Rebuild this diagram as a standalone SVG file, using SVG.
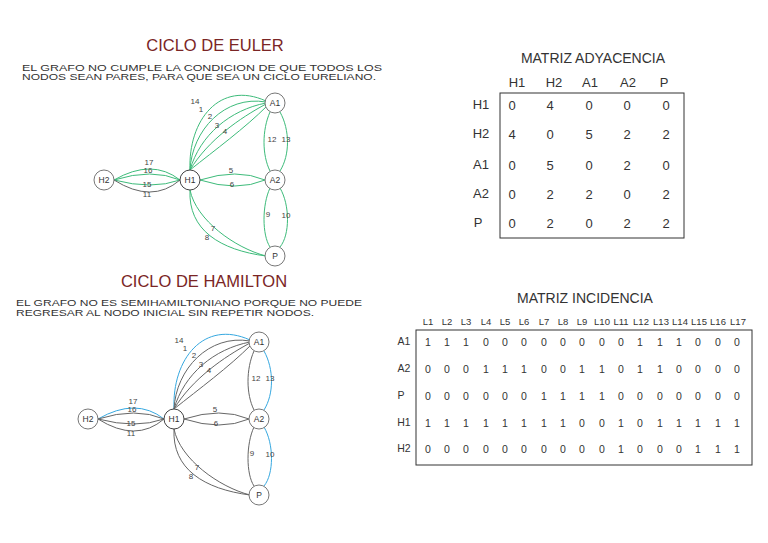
<svg xmlns="http://www.w3.org/2000/svg" width="768" height="543" viewBox="0 0 768 543">
<style>
text{font-family:"Liberation Sans",Arial,sans-serif;fill:#333}
.t{font-size:16.5px;fill:#7a2525;text-anchor:middle}
.s{font-size:9px;fill:#333}
.e{fill:none;stroke-width:1}
.g .e{stroke:#3dbb7a}
.h .e{stroke:#666}
.h .b{stroke:#36a8e0}
.g .k{stroke:#666}
.n circle{fill:#fff;stroke:#777}
.n text{font-size:8.5px;text-anchor:middle}
.l{font-size:8px;fill:#444;text-anchor:middle}
.m{font-size:13px;text-anchor:middle}
.mt{font-size:14px;text-anchor:middle}
.i{font-size:10.5px;text-anchor:middle}
.hd{font-size:9.5px}
.box{fill:none;stroke:#333}
</style>

<text class="t" x="215" y="51">CICLO DE EULER</text>
<text class="s" x="22" y="71" textLength="360" lengthAdjust="spacingAndGlyphs">EL GRAFO NO CUMPLE LA CONDICION DE QUE TODOS LOS</text>
<text class="s" x="22" y="80" textLength="354" lengthAdjust="spacingAndGlyphs">NODOS SEAN PARES, PARA QUE SEA UN CICLO EURELIANO.</text>

<g id="connectors-euler" class="g">
<path class="e" d="M190,170 C188,120 220,80 266,101"/>
<path class="e" d="M190,170 C192,130 225,95 266,102"/>
<path class="e" d="M190,170 C200,135 230,110 266,103"/>
<path class="e" d="M190,170 C208,140 240,118 266,104"/>
<path class="e" d="M190,170 C215,150 245,128 267,106"/>
<path class="e" d="M200,180 Q237,168 265,180"/>
<path class="e" d="M200,180 Q237,192 265,180"/>
<path class="e" d="M190,190 C196,220 235,248 266,256"/>
<path class="e" d="M190,190 C188,230 220,250 266,256"/>
<path class="e" d="M270,188 C262,205 262,235 270,247"/>
<path class="e" d="M280,188 C290,205 290,235 280,247"/>
<path class="e" d="M270,112 C262,130 262,155 270,171"/>
<path class="e" d="M280,112 C290,130 290,155 280,171"/>
<path class="e" d="M114,180 Q152,158 180,180"/>
<path class="e" d="M114,180 Q152,168 180,180"/>
<path class="e" d="M114,180 Q152,190 180,180"/>
<path class="e k" d="M114,180 Q152,204 180,180"/>
<g>
<text class="l" x="195" y="104">14</text><text class="l" x="201" y="112">1</text><text class="l" x="210" y="119">2</text><text class="l" x="217" y="128">3</text><text class="l" x="225" y="134">4</text>
<text class="l" x="272" y="142">12</text><text class="l" x="286" y="142">13</text>
<text class="l" x="231" y="173">5</text><text class="l" x="232" y="187">6</text>
<text class="l" x="268" y="217">9</text><text class="l" x="286" y="218">10</text>
<text class="l" x="213" y="231">7</text><text class="l" x="207" y="240">8</text>
<text class="l" x="149" y="165">17</text><text class="l" x="148" y="173">16</text><text class="l" x="147" y="187">15</text><text class="l" x="147" y="197">11</text>
</g>
</g>
<g id="nodes-euler" class="n">
<g id="e-H2"><circle cx="104" cy="180" r="10"/><text x="104" y="183">H2</text></g>
<g id="e-H1"><circle cx="190" cy="180" r="10" style="stroke:#444"/><text x="190" y="183">H1</text></g>
<g id="e-A1"><circle cx="275" cy="103" r="10"/><text x="275" y="106">A1</text></g>
<g id="e-A2"><circle cx="275" cy="180" r="10"/><text x="275" y="183">A2</text></g>
<g id="e-P"><circle cx="275" cy="256" r="10"/><text x="275" y="259">P</text></g>
</g>

<text class="t" x="204" y="287">CICLO DE HAMILTON</text>
<text class="s" x="16" y="306" textLength="346" lengthAdjust="spacingAndGlyphs">EL GRAFO NO ES SEMIHAMILTONIANO PORQUE NO PUEDE</text>
<text class="s" x="16" y="316" textLength="298" lengthAdjust="spacingAndGlyphs">REGRESAR AL NODO INICIAL SIN REPETIR NODOS.</text>

<g transform="translate(-16,239)">
<g id="connectors-hamilton" class="h">
<path class="e b" d="M190,170 C188,120 220,80 266,101"/>
<path class="e" d="M190,170 C192,130 225,95 266,102"/>
<path class="e" d="M190,170 C200,135 230,110 266,103"/>
<path class="e" d="M190,170 C208,140 240,118 266,104"/>
<path class="e" d="M190,170 C215,150 245,128 267,106"/>
<path class="e" d="M200,180 Q237,168 265,180"/>
<path class="e" d="M200,180 Q237,192 265,180"/>
<path class="e" d="M190,190 C196,220 235,248 266,256"/>
<path class="e" d="M190,190 C188,230 220,250 266,256"/>
<path class="e" d="M270,188 C262,205 262,235 270,247"/>
<path class="e b" d="M280,188 C290,205 290,235 280,247"/>
<path class="e" d="M270,112 C262,130 262,155 270,171"/>
<path class="e b" d="M280,112 C290,130 290,155 280,171"/>
<path class="e b" d="M114,180 Q152,158 180,180"/>
<path class="e" d="M114,180 Q152,168 180,180"/>
<path class="e" d="M114,180 Q152,190 180,180"/>
<path class="e" d="M114,180 Q152,204 180,180"/>
<g>
<text class="l" x="195" y="104">14</text><text class="l" x="201" y="112">1</text><text class="l" x="210" y="119">2</text><text class="l" x="217" y="128">3</text><text class="l" x="225" y="134">4</text>
<text class="l" x="272" y="142">12</text><text class="l" x="286" y="142">13</text>
<text class="l" x="231" y="173">5</text><text class="l" x="232" y="187">6</text>
<text class="l" x="268" y="217">9</text><text class="l" x="286" y="218">10</text>
<text class="l" x="213" y="231">7</text><text class="l" x="207" y="240">8</text>
<text class="l" x="149" y="165">17</text><text class="l" x="148" y="173">16</text><text class="l" x="147" y="187">15</text><text class="l" x="147" y="197">11</text>
</g>
</g>
<g id="nodes-hamilton" class="n">
<g id="h-H2"><circle cx="104" cy="180" r="10"/><text x="104" y="183">H2</text></g>
<g id="h-H1"><circle cx="190" cy="180" r="10" style="stroke:#444"/><text x="190" y="183">H1</text></g>
<g id="h-A1"><circle cx="275" cy="103" r="10"/><text x="275" y="106">A1</text></g>
<g id="h-A2"><circle cx="275" cy="180" r="10"/><text x="275" y="183">A2</text></g>
<g id="h-P"><circle cx="275" cy="256" r="10"/><text x="275" y="259">P</text></g>
</g>
</g>

<g id="adjacency">
<text class="mt" x="593" y="63">MATRIZ ADYACENCIA</text>
<rect class="box" x="500" y="93" width="184" height="145"/>
<g class="m">
<text x="517" y="87">H1</text><text x="554" y="87">H2</text><text x="590" y="87">A1</text><text x="628" y="87">A2</text><text x="664" y="87">P</text>
<text x="481" y="109">H1</text><text x="481" y="138">H2</text><text x="481" y="169">A1</text><text x="481" y="198">A2</text><text x="478" y="227">P</text>
<text x="512" y="110">0</text><text x="550" y="110">4</text><text x="589" y="110">0</text><text x="627" y="110">0</text><text x="666" y="110">0</text>
<text x="512" y="139">4</text><text x="550" y="139">0</text><text x="589" y="139">5</text><text x="627" y="139">2</text><text x="666" y="139">2</text>
<text x="512" y="170">0</text><text x="550" y="170">5</text><text x="589" y="170">0</text><text x="627" y="170">2</text><text x="666" y="170">0</text>
<text x="512" y="199">0</text><text x="550" y="199">2</text><text x="589" y="199">2</text><text x="627" y="199">0</text><text x="666" y="199">2</text>
<text x="512" y="228">0</text><text x="550" y="228">2</text><text x="589" y="228">0</text><text x="627" y="228">2</text><text x="666" y="228">2</text>
</g>
</g>

<g id="incidence" class="i">
<text class="mt" x="585" y="303">MATRIZ INCIDENCIA</text>
<rect class="box" x="416" y="330" width="336" height="135"/>
<g class="hd">
<text x="428" y="325">L1</text><text x="447" y="325">L2</text><text x="466" y="325">L3</text><text x="486" y="325">L4</text><text x="505" y="325">L5</text><text x="524" y="325">L6</text><text x="544" y="325">L7</text><text x="563" y="325">L8</text><text x="582" y="325">L9</text><text x="602" y="325">L10</text><text x="621" y="325">L11</text><text x="641" y="325">L12</text><text x="661" y="325">L13</text><text x="680" y="325">L14</text><text x="699" y="325">L15</text><text x="718" y="325">L16</text><text x="738" y="325">L17</text>
</g>
<g>
<text x="404" y="345">A1</text><text x="404" y="372">A2</text><text x="401" y="399">P</text><text x="404" y="426">H1</text><text x="404" y="452">H2</text>
</g>
<g>
<text x="428" y="346">1</text><text x="447" y="346">1</text><text x="466" y="346">1</text><text x="486" y="346">0</text><text x="505" y="346">0</text><text x="524" y="346">0</text><text x="544" y="346">0</text><text x="563" y="346">0</text><text x="582" y="346">0</text><text x="602" y="346">0</text><text x="621" y="346">0</text><text x="640" y="346">1</text><text x="660" y="346">1</text><text x="679" y="346">1</text><text x="698" y="346">0</text><text x="718" y="346">0</text><text x="737" y="346">0</text>
<text x="428" y="373">0</text><text x="447" y="373">0</text><text x="466" y="373">0</text><text x="486" y="373">1</text><text x="505" y="373">1</text><text x="524" y="373">1</text><text x="544" y="373">0</text><text x="563" y="373">0</text><text x="582" y="373">1</text><text x="602" y="373">1</text><text x="621" y="373">0</text><text x="640" y="373">1</text><text x="660" y="373">1</text><text x="679" y="373">0</text><text x="698" y="373">0</text><text x="718" y="373">0</text><text x="737" y="373">0</text>
<text x="428" y="400">0</text><text x="447" y="400">0</text><text x="466" y="400">0</text><text x="486" y="400">0</text><text x="505" y="400">0</text><text x="524" y="400">0</text><text x="544" y="400">1</text><text x="563" y="400">1</text><text x="582" y="400">1</text><text x="602" y="400">1</text><text x="621" y="400">0</text><text x="640" y="400">0</text><text x="660" y="400">0</text><text x="679" y="400">0</text><text x="698" y="400">0</text><text x="718" y="400">0</text><text x="737" y="400">0</text>
<text x="428" y="427">1</text><text x="447" y="427">1</text><text x="466" y="427">1</text><text x="486" y="427">1</text><text x="505" y="427">1</text><text x="524" y="427">1</text><text x="544" y="427">1</text><text x="563" y="427">1</text><text x="582" y="427">0</text><text x="602" y="427">0</text><text x="621" y="427">1</text><text x="640" y="427">0</text><text x="660" y="427">1</text><text x="679" y="427">1</text><text x="698" y="427">1</text><text x="718" y="427">1</text><text x="737" y="427">1</text>
<text x="428" y="453">0</text><text x="447" y="453">0</text><text x="466" y="453">0</text><text x="486" y="453">0</text><text x="505" y="453">0</text><text x="524" y="453">0</text><text x="544" y="453">0</text><text x="563" y="453">0</text><text x="582" y="453">0</text><text x="602" y="453">0</text><text x="621" y="453">1</text><text x="640" y="453">0</text><text x="660" y="453">0</text><text x="679" y="453">0</text><text x="698" y="453">1</text><text x="718" y="453">1</text><text x="737" y="453">1</text>
</g>
</g>
</svg>
